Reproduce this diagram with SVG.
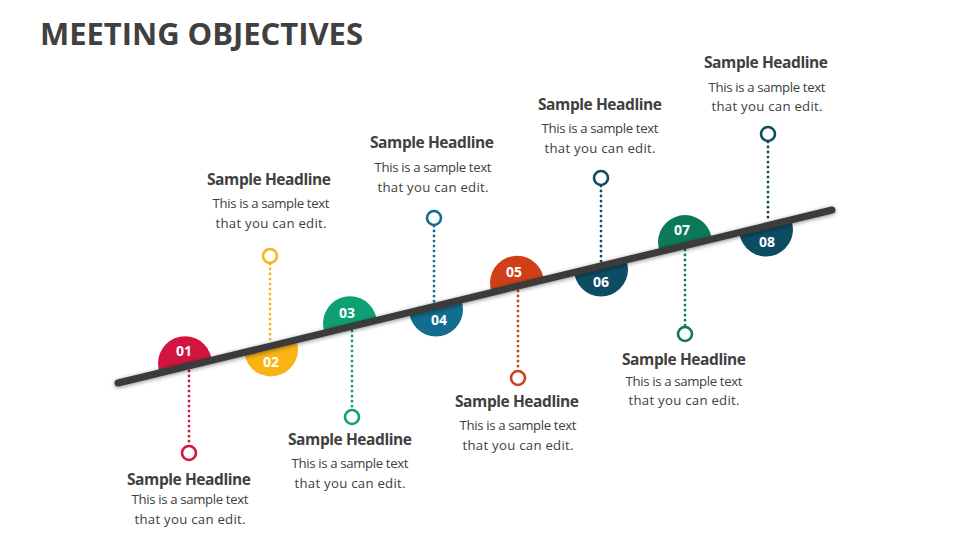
<svg xmlns="http://www.w3.org/2000/svg" width="960" height="540" viewBox="0 0 960 540">
<defs>
<style>
.title{font-family:"Open Sans","Liberation Sans",sans-serif;font-weight:700;font-size:31px;fill:#404040}
.hd{font-family:"Open Sans","Liberation Sans",sans-serif;font-weight:700;font-size:15.5px;fill:#404040;text-anchor:middle}
.bd{font-family:"Open Sans","Liberation Sans",sans-serif;font-size:13.2px;fill:#404040;text-anchor:middle}
.num{font-family:"Open Sans","Liberation Sans",sans-serif;font-weight:700;font-size:14px;fill:#ffffff;text-anchor:middle}
.dot{fill:none;stroke-width:2.8;stroke-linecap:round;stroke-dasharray:0.01 5}
.ring{fill:#ffffff;stroke-width:2.6}
</style>
<clipPath id="above"><polygon points="0,0 960,0 960,178.9 0,411.6"/></clipPath>
<clipPath id="below"><polygon points="0,411.6 960,178.9 960,540 0,540"/></clipPath>
<filter id="sh" x="-5%" y="-50%" width="110%" height="200%">
<feDropShadow dx="0" dy="1" stdDeviation="2" flood-color="#000000" flood-opacity="0.45"/>
</filter>
</defs>
<rect width="960" height="540" fill="#ffffff"/>
<text class="title" x="40" y="44.5" textLength="323">MEETING OBJECTIVES</text>

<g id="connectors">
<line class="dot" stroke="#D2143F" x1="189" y1="371" x2="189" y2="445"/>
<line class="dot" stroke="#F9B315" x1="270" y1="264" x2="270" y2="342"/>
<line class="dot" stroke="#0E9F75" x1="352" y1="331" x2="352" y2="409"/>
<line class="dot" stroke="#126D8E" x1="434" y1="226" x2="434" y2="302"/>
<line class="dot" stroke="#CF4019" x1="518" y1="291" x2="518" y2="370"/>
<line class="dot" stroke="#0C4D63" x1="601" y1="186" x2="601" y2="262"/>
<line class="dot" stroke="#0B7A5A" x1="685" y1="250" x2="685" y2="326"/>
<line class="dot" stroke="#0C4D63" x1="768" y1="142" x2="768" y2="222"/>
</g>

<g id="node1">
<circle cx="185" cy="363.3" r="27" fill="#D2143F" clip-path="url(#above)"/>
<text class="num" x="184" y="356">01</text>
<circle class="ring" stroke="#D2143F" cx="189" cy="453" r="7"/>
<text class="hd" x="189" y="485" textLength="124">Sample Headline</text>
<text class="bd" x="190" y="504" textLength="117">This is a sample text</text>
<text class="bd" x="190" y="524" textLength="111">that you can edit.</text>
</g>
<g id="node2">
<circle cx="271" cy="349.4" r="27" fill="#F9B315" clip-path="url(#below)"/>
<text class="num" x="271" y="367">02</text>
<circle class="ring" stroke="#F9B315" cx="270" cy="256" r="7"/>
<text class="hd" x="269" y="184.5" textLength="124">Sample Headline</text>
<text class="bd" x="271" y="208" textLength="117">This is a sample text</text>
<text class="bd" x="271" y="227.5" textLength="111">that you can edit.</text>
</g>
<g id="node3">
<circle cx="350" cy="323.3" r="27" fill="#0E9F75" clip-path="url(#above)"/>
<text class="num" x="347" y="318">03</text>
<circle class="ring" stroke="#0E9F75" cx="352" cy="417" r="7"/>
<text class="hd" x="350" y="445" textLength="124">Sample Headline</text>
<text class="bd" x="350" y="468" textLength="117">This is a sample text</text>
<text class="bd" x="350" y="487.5" textLength="111">that you can edit.</text>
</g>
<g id="node4">
<circle cx="436" cy="309.5" r="27" fill="#126D8E" clip-path="url(#below)"/>
<text class="num" x="439" y="325">04</text>
<circle class="ring" stroke="#126D8E" cx="434" cy="218" r="7"/>
<text class="hd" x="432" y="148" textLength="124">Sample Headline</text>
<text class="bd" x="433" y="172" textLength="117">This is a sample text</text>
<text class="bd" x="433" y="191.5" textLength="111">that you can edit.</text>
</g>
<g id="node5">
<circle cx="517" cy="282.8" r="27" fill="#CF4019" clip-path="url(#above)"/>
<text class="num" x="514" y="277">05</text>
<circle class="ring" stroke="#CF4019" cx="518" cy="378" r="7"/>
<text class="hd" x="517" y="407" textLength="124">Sample Headline</text>
<text class="bd" x="518" y="430" textLength="117">This is a sample text</text>
<text class="bd" x="518" y="449.5" textLength="111">that you can edit.</text>
</g>
<g id="node6">
<circle cx="601" cy="269.5" r="27" fill="#0C4D63" clip-path="url(#below)"/>
<text class="num" x="601" y="287">06</text>
<circle class="ring" stroke="#0C4D63" cx="601" cy="178" r="7"/>
<text class="hd" x="600" y="110" textLength="124">Sample Headline</text>
<text class="bd" x="600" y="133" textLength="117">This is a sample text</text>
<text class="bd" x="600" y="152.5" textLength="111">that you can edit.</text>
</g>
<g id="node7">
<circle cx="685" cy="242.1" r="27" fill="#0B7A5A" clip-path="url(#above)"/>
<text class="num" x="682" y="235">07</text>
<circle class="ring" stroke="#0B7A5A" cx="685" cy="334" r="7"/>
<text class="hd" x="684" y="365" textLength="124">Sample Headline</text>
<text class="bd" x="684" y="385.5" textLength="117">This is a sample text</text>
<text class="bd" x="684" y="405" textLength="111">that you can edit.</text>
</g>
<g id="node8">
<circle cx="766" cy="229.5" r="27" fill="#0C4D63" clip-path="url(#below)"/>
<text class="num" x="767" y="247">08</text>
<circle class="ring" stroke="#0C4D63" cx="768" cy="134" r="7"/>
<text class="hd" x="766" y="68" textLength="124">Sample Headline</text>
<text class="bd" x="767" y="91.5" textLength="117">This is a sample text</text>
<text class="bd" x="767" y="111" textLength="111">that you can edit.</text>
</g>

<g id="timeline">
<line x1="118" y1="383" x2="832" y2="210" stroke="#3A3A3A" stroke-width="7" stroke-linecap="round" filter="url(#sh)"/>
</g>
</svg>
